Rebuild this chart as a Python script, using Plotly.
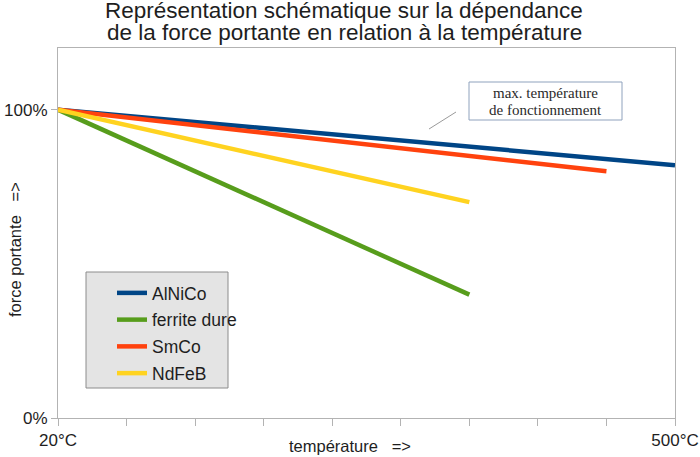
import plotly.graph_objects as go

# ---- data ----
# x positions are slots on a 10-slot temperature axis (slot 0 = 20°C, slot 9 = 500°C)
tick_labels = ["20°C", "", "", "", "", "", "", "", "", "500°C"]
series_names = ["AlNiCo", "ferrite dure", "SmCo", "NdFeB"]
x_start = [0, 0, 0, 0]
x_end = [9, 6, 8, 6]
y_start = [100, 100, 100, 100]
y_end = [82, 40, 80, 70]
y_tick_vals = [0, 100]
y_tick_text = ["0%", "100%"]

colors = ["#004586", "#579d1c", "#ff420e", "#ffd320"]

W, H = 700, 457
L, R, T, B = 58, 25, 48, 39
PW, PH = W - L - R, H - T - B


def px(x):
    return (x - L) / PW


def py(y):
    return (H - B - y) / PH


fig = go.Figure()
for name, xs, xe, ys, ye, c in zip(series_names, x_start, x_end, y_start, y_end, colors):
    fig.add_trace(go.Scatter(
        x=[xs, xe], y=[ys, ye], mode="lines", name=name,
        line=dict(color=c, width=4.5),
        legendgroup=name,
    ))

axis_col = "#b3b3b3"
txt_col = "#1e1e1e"
font_family = "Liberation Sans, Arial, sans-serif"

fig.update_layout(
    width=W, height=H,
    margin=dict(l=L, r=R, t=T, b=B, pad=0, autoexpand=False),
    paper_bgcolor="white", plot_bgcolor="white",
    font=dict(family=font_family, color=txt_col),
    showlegend=True,
    legend=dict(
        x=px(112), y=py(275), xanchor="left", yanchor="top",
        bgcolor="rgba(0,0,0,0)", borderwidth=0,
        font=dict(size=17.5, color=txt_col, family=font_family),
        tracegroupgap=1,
    ),
    xaxis=dict(
        range=[0, len(tick_labels) - 1],
        tickvals=list(range(len(tick_labels))), ticktext=tick_labels,
        ticks="outside", ticklen=7, tickcolor=axis_col,
        showline=True, linecolor=axis_col, mirror=True,
        showgrid=False, zeroline=False, automargin=False,
        tickfont=dict(size=17, color=txt_col),
        fixedrange=True,
    ),
    yaxis=dict(
        range=[0, 120],
        tickvals=y_tick_vals, ticktext=y_tick_text,
        ticks="outside", ticklen=6, tickcolor=axis_col,
        showline=True, linecolor=axis_col, mirror=True,
        showgrid=False, zeroline=False, automargin=False,
        tickfont=dict(size=17, color=txt_col),
        fixedrange=True,
    ),
)

# legend box
fig.add_shape(type="rect", xref="paper", yref="paper",
              x0=px(86), x1=px(228), y0=py(388), y1=py(272),
              fillcolor="#e4e4e4", line=dict(color="#8c8c8c", width=1), layer="above")

# note box + pointer
fig.add_shape(type="rect", xref="paper", yref="paper",
              x0=px(469), x1=px(622), y0=py(120), y1=py(82),
              fillcolor="white", line=dict(color="#8fa2bd", width=1), layer="above")
fig.add_shape(type="line", xref="paper", yref="paper",
              x0=px(429), y0=py(129), x1=px(456), y1=py(112),
              line=dict(color="#9a9a9a", width=1), layer="above")

serif = "Liberation Serif, Times New Roman, serif"
for t, yy in [("max. température", 93), ("de fonctionnement", 110)]:
    fig.add_annotation(text=t, xref="paper", yref="paper", x=px(545.5), y=py(yy),
                       xanchor="center", yanchor="middle", showarrow=False,
                       font=dict(family=serif, size=15, color="#2a2a2a"))

# title (two lines)
for t, yy in [("Représentation schématique sur la dépendance", 10.6),
              ("de la force portante en relation à la température", 33)]:
    fig.add_annotation(text=t, xref="paper", yref="paper", x=px(344), y=py(yy),
                       xanchor="center", yanchor="middle", showarrow=False,
                       font=dict(size=22.5, color=txt_col, family=font_family))

# axis titles
fig.add_annotation(text="température\u00a0\u00a0\u00a0=>", xref="paper", yref="paper",
                   x=px(350), y=py(446), xanchor="center", yanchor="middle",
                   showarrow=False, font=dict(size=16.5, color=txt_col))
fig.add_annotation(text="force portante\u00a0\u00a0\u00a0=>", xref="paper", yref="paper",
                   x=px(15), y=py(250), xanchor="center", yanchor="middle",
                   textangle=-90, showarrow=False, font=dict(size=16.5, color=txt_col))

fig.write_html("out.html")
